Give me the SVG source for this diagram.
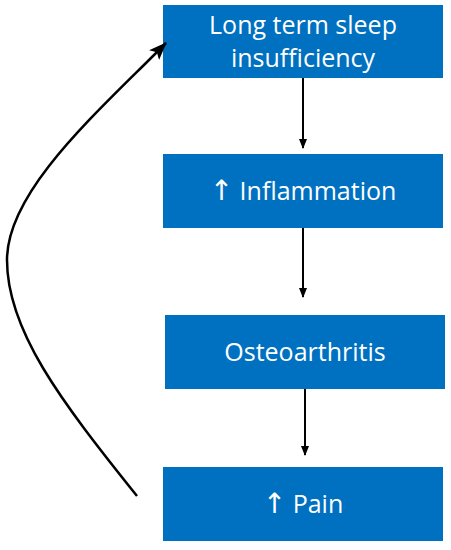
<svg xmlns="http://www.w3.org/2000/svg" width="451" height="550" viewBox="0 0 451 550">
<style>
.box{fill:#0070C0;}
.lbl{font-family:"Open Sans","Liberation Sans",sans-serif;font-size:25px;fill:#ffffff;text-anchor:middle;}
.arr{font-family:"DejaVu Sans",sans-serif;font-size:28px;}
.con{stroke:#000;fill:none;}
</style>
<defs>
<marker id="ah" markerWidth="10" markerHeight="8" refX="9" refY="4" orient="auto" markerUnits="userSpaceOnUse">
<path d="M0,0 L10,4 L0,8 Z" fill="#000"/>
</marker>
<marker id="ah2" markerWidth="18" markerHeight="14" refX="17" refY="7" orient="auto" markerUnits="userSpaceOnUse">
<path d="M0,0 L18,7 L0,14 L4,7 Z" fill="#000"/>
</marker>
</defs>
<rect width="451" height="550" fill="#fff"/>
<g id="n1"><rect class="box" x="163" y="5" width="280" height="73"/><text class="lbl" x="303" y="34">Long term sleep</text><text class="lbl" x="303" y="67">insufficiency</text></g>
<g id="n2"><rect class="box" x="163" y="154" width="280" height="74"/><text class="lbl" x="303" y="200"><tspan class="arr">↑</tspan> Inflammation</text></g>
<g id="n3"><rect class="box" x="165" y="315" width="280" height="74"/><text class="lbl" x="305" y="361">Osteoarthritis</text></g>
<g id="n4"><rect class="box" x="163" y="467" width="280" height="74"/><text class="lbl" x="303" y="513"><tspan class="arr">↑</tspan> Pain</text></g>
<g id="connectors">
<line class="con" stroke-width="2" x1="303" y1="78" x2="303" y2="148" marker-end="url(#ah)"/>
<line class="con" stroke-width="2" x1="303" y1="228" x2="303" y2="297" marker-end="url(#ah)"/>
<line class="con" stroke-width="2" x1="305" y1="389" x2="305" y2="455" marker-end="url(#ah)"/>
<path class="con" stroke-width="2.5" d="M137,496 C60,400 7,330 7,260 C7,190 100,110 166,43" marker-end="url(#ah2)"/>
</g>
</svg>
